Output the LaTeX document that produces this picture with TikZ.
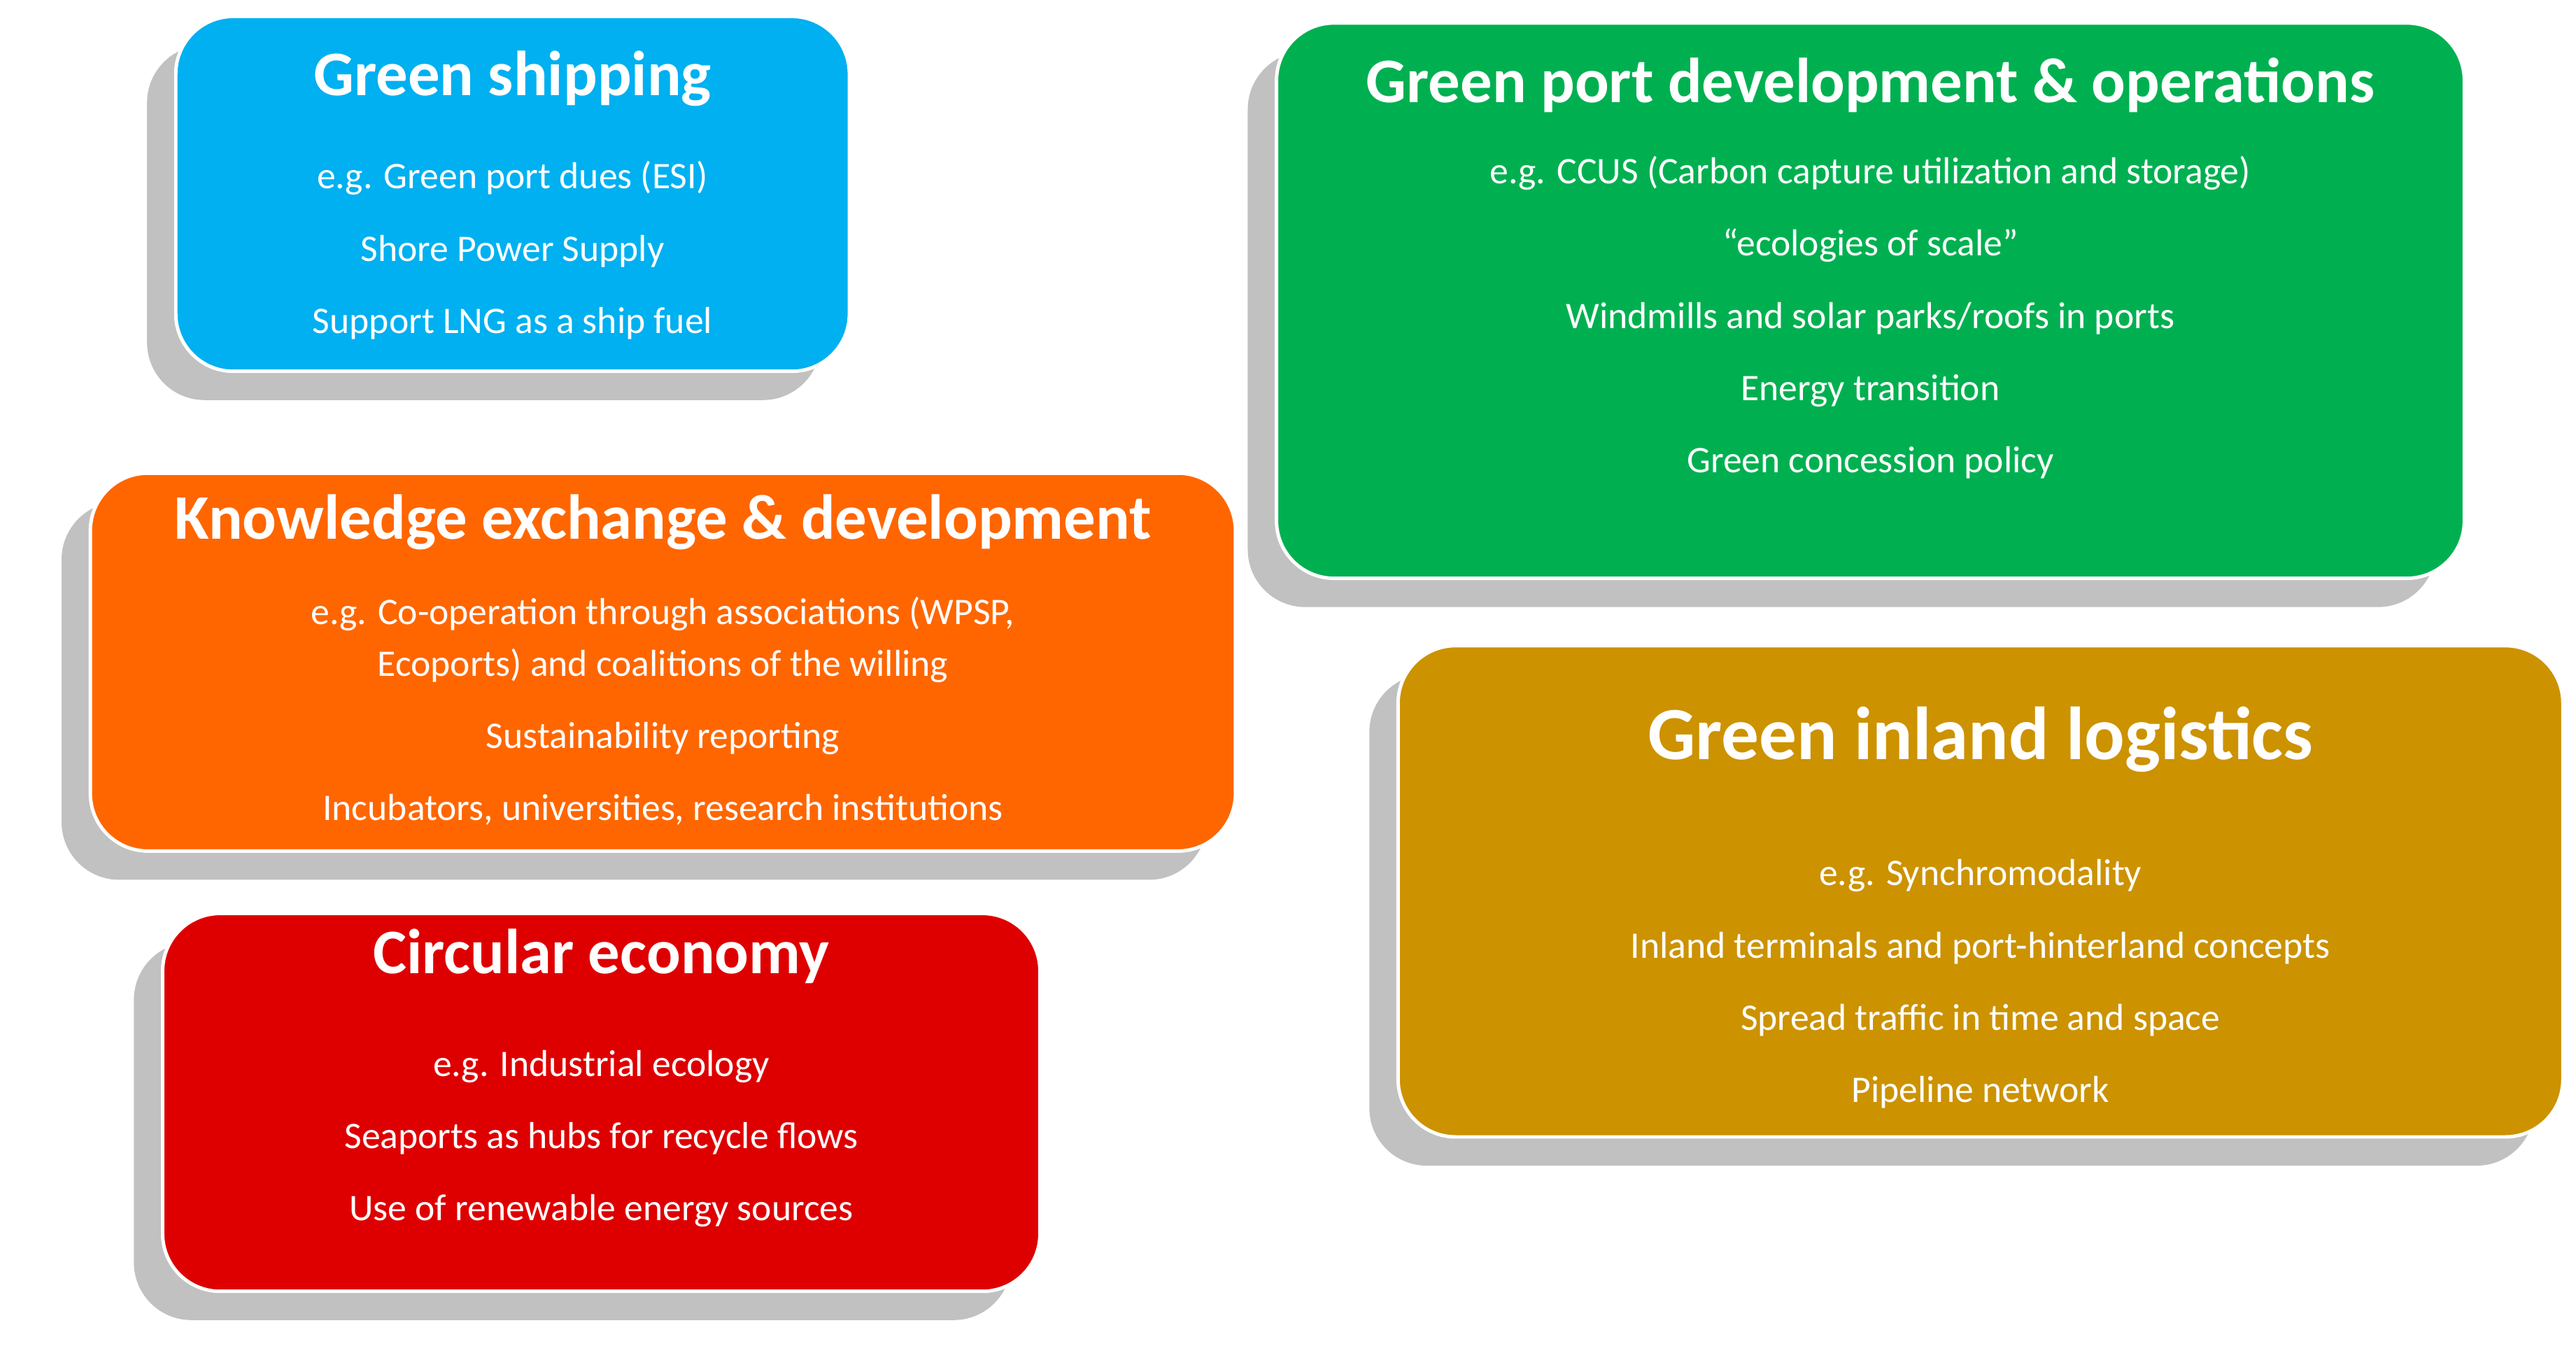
\documentclass[tikz,border=0pt]{standalone}
\usepackage{fontspec}
\setmainfont{Carlito}
\usetikzlibrary{shadows,positioning}

\tikzset{
  panel/.style={rounded corners=0.7cm, draw=white, line width=1.2pt, fill=#1,
    drop shadow={shadow xshift=-0.35cm, shadow yshift=-0.35cm, opacity=0.35, fill=black!70}},
  heading/.style={text=white, font=\bfseries\fontsize{22}{26}\selectfont},
  bodytext/.style={text=white, align=center, anchor=north, font=\fontsize{13}{25}\selectfont}
}
\definecolor{shipblue}{RGB}{0,176,240}
\definecolor{portgreen}{RGB}{0,176,80}
\definecolor{knoworange}{RGB}{255,102,0}
\definecolor{inlandgold}{RGB}{204,146,0}
\definecolor{circred}{RGB}{222,0,0}

\begin{document}
\begin{tikzpicture}
\useasboundingbox (0,0) rectangle (31.36,16.44);
% panels
\node[panel=shipblue, minimum width=8.2cm, minimum height=4.32cm] (ship) at (6.24,14.08) {};
\node[panel=portgreen, minimum width=14.46cm, minimum height=6.76cm] (port) at (22.77,12.78) {};
\node[panel=knoworange, minimum width=13.94cm, minimum height=4.6cm] (know) at (8.07,8.38) {};
\node[panel=inlandgold, minimum width=14.18cm, minimum height=5.98cm] (inland) at (24.11,5.59) {};
\node[panel=circred, minimum width=10.68cm, minimum height=4.6cm] (circ) at (7.32,3.02) {};
% headings
\node[heading] (shiptitle) at (6.24,15.48) {Green shipping};
\node[heading] (porttitle) at (22.77,15.4) {Green port development \& operations};
\node[heading] (knowtitle) at (8.07,10.08) {Knowledge exchange \& development};
\node[heading, font=\bfseries\fontsize{26}{30}\selectfont] (inlandtitle) at (24.11,7.44) {Green inland logistics};
\node[heading] (circtitle) at (7.32,4.8) {Circular economy};
% texts
\node[bodytext] (shiptext) at (6.24,14.6) {e.g. Green port dues (ESI)\\ Shore Power Supply\\ Support LNG as a ship fuel};
\node[bodytext] (porttext) at (22.77,14.66) {e.g. CCUS (Carbon capture utilization and storage)\\ “ecologies of scale”\\
  Windmills and solar parks/roofs in ports\\ Energy transition\\ Green concession policy};
\node[bodytext] (knowtext) at (8.07,9.3) {e.g. Co-operation through associations (WPSP,\\[-7pt] Ecoports) and coalitions of the willing\\
  Sustainability reporting\\ Incubators, universities, research institutions};
\node[bodytext] (inlandtext) at (24.11,6.1) {e.g. Synchromodality\\ Inland terminals and port-hinterland concepts\\
  Spread traffic in time and space\\ Pipeline network};
\node[bodytext] (circtext) at (7.32,3.78) {e.g. Industrial ecology\\ Seaports as hubs for recycle flows\\ Use of renewable energy sources};
\end{tikzpicture}
\end{document}
